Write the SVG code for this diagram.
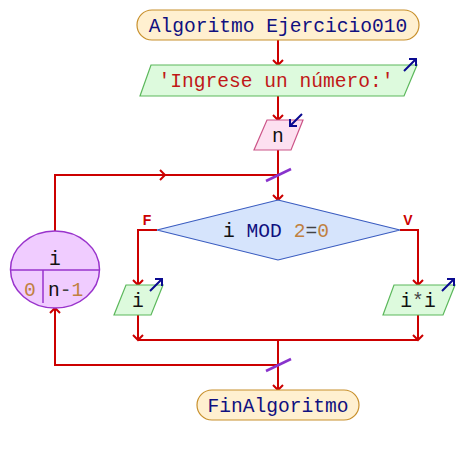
<svg xmlns="http://www.w3.org/2000/svg" width="458" height="455" viewBox="0 0 458 455">
<defs>
<marker id="arr" viewBox="-7 -7 14 14" markerWidth="14" markerHeight="14" refX="0" refY="0" orient="auto" markerUnits="userSpaceOnUse">
<path d="M-5,-5 L0,0 L-5,5" fill="none" stroke="#cc0000" stroke-width="2"/>
</marker>
<marker id="io" viewBox="0 0 10 10" refX="0" refY="0" markerWidth="10" markerHeight="10" orient="auto" markerUnits="userSpaceOnUse">
<path d="M0,0 Z"/>
</marker>
</defs>
<style>
text{font-family:"Liberation Mono","Courier New",monospace;font-size:19.6px;}
.c{fill:none;stroke:#cc0000;stroke-width:2;}
.term{fill:#fff0d0;stroke:#c8902c;stroke-width:1.2;}
.out{fill:#ddfadd;stroke:#5cb85c;stroke-width:1.2;}
.inp{fill:#fde0f0;stroke:#cc5588;stroke-width:1.2;}
.dec{fill:#d6e4fc;stroke:#3a5cc0;stroke-width:1.2;}
.loop{fill:#f0ccff;stroke:#9933cc;stroke-width:1.5;}
.kw{fill:#101080;}
.str{fill:#c01818;}
.var{fill:#111111;}
.num{fill:#c08040;}
.op{fill:#444444;}
.ico{fill:none;stroke:#0a0a90;stroke-width:2;}
.sl{stroke:#8833cc;stroke-width:2.5;}
.lbl{font-family:"Liberation Sans",Arial,sans-serif;font-size:14px;font-weight:bold;fill:#cc0000;}
</style>

<g id="connectors">
<path class="c" d="M278,40 V65" marker-end="url(#arr)"/>
<path class="c" d="M278,96 V120" marker-end="url(#arr)"/>
<path class="c" d="M278,150 V200" marker-end="url(#arr)"/>
<path class="c" d="M55,231 V175 H165" marker-end="url(#arr)"/>
<path class="c" d="M165,175 H278"/>
<path class="c" d="M157,230 H138 V285" marker-end="url(#arr)"/>
<path class="c" d="M400,230 H418 V285" marker-end="url(#arr)"/>
<path class="c" d="M138,315 V340" marker-end="url(#arr)"/>
<path class="c" d="M418,315 V340" marker-end="url(#arr)"/>
<path class="c" d="M138,340 H418"/>
<path class="c" d="M278,340 V390" marker-end="url(#arr)"/>
<path class="c" d="M278,365 H55 V308" marker-end="url(#arr)"/>
<line class="sl" x1="266" y1="181" x2="291" y2="169"/>
<line class="sl" x1="266" y1="371" x2="291" y2="359"/>
<text class="lbl" x="147" y="225" text-anchor="middle">F</text>
<text class="lbl" x="408" y="225" text-anchor="middle">V</text>
</g>

<g id="start">
<rect class="term" x="137" y="10" width="282" height="30" rx="15" ry="15"/>
<text class="kw" x="278" y="32" text-anchor="middle">Algoritmo Ejercicio010</text>
</g>

<g id="output1">
<polygon class="out" points="151,65 417,65 404,96 140,96"/>
<text class="str" x="276" y="87" text-anchor="middle">'Ingrese un número:'</text>
<path class="ico" d="M404,71 L416,59 M409,59 H416 V66"/>
</g>

<g id="input1">
<polygon class="inp" points="267,120 303,120 291,150 254,150"/>
<text class="var" x="278" y="142" text-anchor="middle">n</text>
<path class="ico" d="M302,114 L290,126 M290,119 V126 H297"/>
</g>

<g id="loop">
<ellipse class="loop" cx="55" cy="269.5" rx="44.5" ry="38.5"/>
<line x1="10.5" y1="270" x2="99.5" y2="270" stroke="#9933cc" stroke-width="1.5"/>
<line x1="43" y1="270" x2="43" y2="303" stroke="#9933cc" stroke-width="1.5"/>
<text class="var" x="55" y="265" text-anchor="middle">i</text>
<text class="num" x="30" y="296" text-anchor="middle">0</text>
<text x="48" y="296"><tspan class="var">n</tspan><tspan class="op">-</tspan><tspan class="num">1</tspan></text>
</g>

<g id="decision">
<polygon class="dec" points="278,200 400,230 278,260 157,230"/>
<text x="276" y="237" text-anchor="middle"><tspan class="var">i</tspan><tspan> </tspan><tspan class="kw">MOD</tspan><tspan> </tspan><tspan class="num">2</tspan><tspan class="op">=</tspan><tspan class="num">0</tspan></text>
</g>

<g id="output2">
<polygon class="out" points="126,285 163,285 151,315 114,315"/>
<text class="var" x="138" y="307" text-anchor="middle">i</text>
<path class="ico" d="M150,291 L162,279 M155,279 H162 V286"/>
</g>

<g id="output3">
<polygon class="out" points="394,285 455,285 443,315 383,315"/>
<text x="418" y="307" text-anchor="middle"><tspan class="var">i</tspan><tspan class="op">*</tspan><tspan class="var">i</tspan></text>
<path class="ico" d="M442,291 L454,279 M447,279 H454 V286"/>
</g>

<g id="end">
<rect class="term" x="197" y="390" width="162" height="30" rx="15" ry="15"/>
<text class="kw" x="278" y="412" text-anchor="middle">FinAlgoritmo</text>
</g>
</svg>
